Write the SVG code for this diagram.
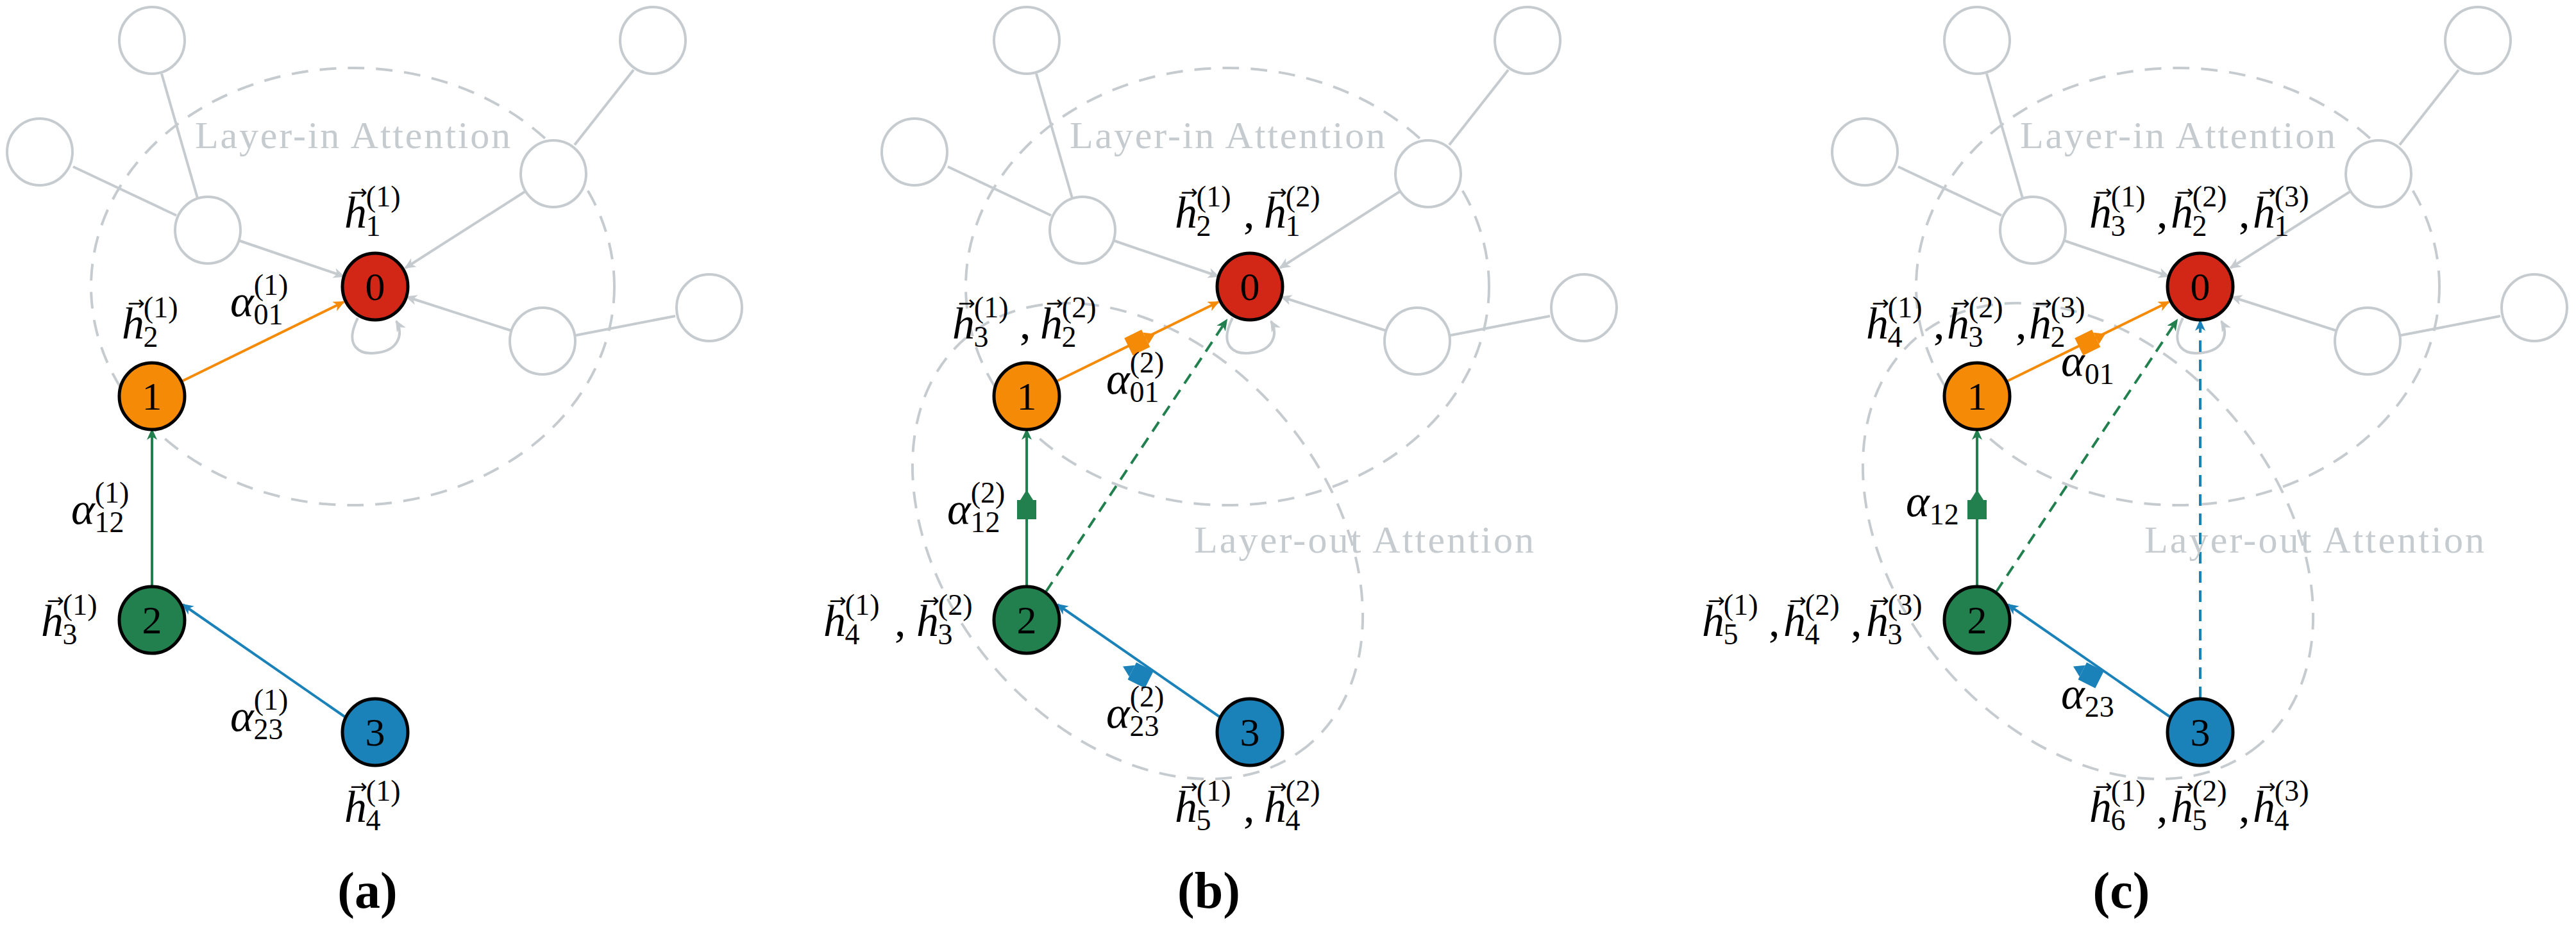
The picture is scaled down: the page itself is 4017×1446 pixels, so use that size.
<svg xmlns="http://www.w3.org/2000/svg" width="4017" height="1446" viewBox="0 0 4017 1446">
<style>
.bg{fill:#fff}
.gn{fill:#fff;stroke:#c5cbcf;stroke-width:4}
.cn{stroke:#000;stroke-width:5}
.gl{stroke:#c5cbcf;stroke-width:4;fill:none}
.dash{fill:none;stroke:#c5cbcf;stroke-width:4;stroke-dasharray:26 18}
.num{font-family:"Liberation Serif",serif;font-size:62px;text-anchor:middle}
.m{font-family:"Liberation Serif",serif;font-size:70px}
.i{font-style:italic}
.s{font-size:46px;font-style:normal}
.ar{font-family:"DejaVu Sans",sans-serif;font-size:32px}
.att{font-family:"Liberation Serif",serif;font-size:60px;fill:#c5cbcf;text-anchor:middle}
.cap{font-family:"Liberation Serif",serif;font-size:80px;font-weight:bold;text-anchor:middle}
.o{stroke:#f58a07;stroke-width:4;fill:none}
.g{stroke:#22804f;stroke-width:4;fill:none}
.b{stroke:#1a82b8;stroke-width:4;fill:none}
.gd{stroke:#22804f;stroke-width:4;fill:none;stroke-dasharray:18 12}
.bd{stroke:#1a82b8;stroke-width:4;fill:none;stroke-dasharray:18 12}
</style>
<defs>
<marker id="aG" markerUnits="userSpaceOnUse" markerWidth="24" markerHeight="20" refX="16" refY="8" orient="auto"><path d="M0,0 L18,8 L0,16 L5,8 z" fill="#c5cbcf"/></marker>
<marker id="aO" markerUnits="userSpaceOnUse" markerWidth="24" markerHeight="20" refX="16" refY="8" orient="auto"><path d="M0,0 L18,8 L0,16 L5,8 z" fill="#f58a07"/></marker>
<marker id="aGr" markerUnits="userSpaceOnUse" markerWidth="24" markerHeight="20" refX="16" refY="8" orient="auto"><path d="M0,0 L18,8 L0,16 L5,8 z" fill="#22804f"/></marker>
<marker id="aB" markerUnits="userSpaceOnUse" markerWidth="24" markerHeight="20" refX="16" refY="8" orient="auto"><path d="M0,0 L18,8 L0,16 L5,8 z" fill="#1a82b8"/></marker>
</defs>
<rect class="bg" width="4017" height="1446"/>

<!-- ================= Panel A ================= -->
<g id="panel-a">
<g id="connectors-a">
<ellipse class="dash" cx="550" cy="447" rx="408" ry="341"/>
<line class="gl" x1="252" y1="115" x2="308" y2="309"/>
<line class="gl" x1="114" y1="260" x2="275" y2="336"/>
<line class="gl" x1="988" y1="109" x2="896" y2="226"/>
<line class="gl" x1="1053" y1="493" x2="898" y2="523"/>
<line class="gl" x1="372" y1="375" x2="536" y2="431" marker-end="url(#aG)"/>
<line class="gl" x1="820" y1="298" x2="632" y2="418" marker-end="url(#aG)"/>
<line class="gl" x1="798" y1="516" x2="634" y2="463" marker-end="url(#aG)"/>
<path class="gl" d="M558,496 C536,540 560,555 590,550 C620,546 630,522 618,501" marker-end="url(#aG)"/>
<line class="o" x1="283" y1="595" x2="536" y2="471" marker-end="url(#aO)"/>
<line class="g" x1="237" y1="915" x2="237" y2="670" marker-end="url(#aGr)"/>
<line class="b" x1="539" y1="1119" x2="285" y2="943" marker-end="url(#aB)"/>
</g>
<text class="att" x="550" y="231" textLength="492">Layer-in Attention</text>
<g id="a-g1"><ellipse class="gn" cx="237" cy="63" rx="51" ry="52"/></g>
<g id="a-g2"><ellipse class="gn" cx="62" cy="237" rx="51" ry="52"/></g>
<g id="a-g3"><ellipse class="gn" cx="324" cy="359" rx="51" ry="52"/></g>
<g id="a-g4"><ellipse class="gn" cx="863" cy="271" rx="51" ry="52"/></g>
<g id="a-g5"><ellipse class="gn" cx="1018" cy="63" rx="51" ry="52"/></g>
<g id="a-g6"><ellipse class="gn" cx="846" cy="532" rx="51" ry="52"/></g>
<g id="a-g7"><ellipse class="gn" cx="1106" cy="480" rx="51" ry="52"/></g>
<g id="a-n0"><ellipse class="cn" fill="#d22717" cx="585" cy="447" rx="51" ry="52"/><text class="num" x="585" y="468">0</text></g>
<g id="a-n1"><ellipse class="cn" fill="#f58a07" cx="237" cy="618" rx="51" ry="52"/><text class="num" x="237" y="639">1</text></g>
<g id="a-n2"><ellipse class="cn" fill="#22804f" cx="237" cy="967" rx="51" ry="52"/><text class="num" x="237" y="988">2</text></g>
<g id="a-n3"><ellipse class="cn" fill="#1a82b8" cx="585" cy="1142" rx="51" ry="52"/><text class="num" x="585" y="1163">3</text></g>
<text class="m" x="537" y="355"><tspan class="i">h</tspan><tspan class="ar" dx="-26" dy="-44">→</tspan><tspan class="s" dx="-2" dy="11">(1)</tspan><tspan class="s" dx="-54" dy="46">1</tspan></text>
<text class="m" x="190" y="528"><tspan class="i">h</tspan><tspan class="ar" dx="-26" dy="-44">→</tspan><tspan class="s" dx="-2" dy="11">(1)</tspan><tspan class="s" dx="-54" dy="46">2</tspan></text>
<text class="m" x="64" y="992"><tspan class="i">h</tspan><tspan class="ar" dx="-26" dy="-44">→</tspan><tspan class="s" dx="-2" dy="11">(1)</tspan><tspan class="s" dx="-54" dy="46">3</tspan></text>
<text class="m" x="537" y="1282"><tspan class="i">h</tspan><tspan class="ar" dx="-26" dy="-44">→</tspan><tspan class="s" dx="-2" dy="11">(1)</tspan><tspan class="s" dx="-54" dy="46">4</tspan></text>
<text class="m" x="359" y="493"><tspan class="i">α</tspan><tspan class="s" dy="-33">(1)</tspan><tspan class="s" dx="-54" dy="46">01</tspan></text>
<text class="m" x="111" y="817"><tspan class="i">α</tspan><tspan class="s" dy="-33">(1)</tspan><tspan class="s" dx="-54" dy="46">12</tspan></text>
<text class="m" x="359" y="1140"><tspan class="i">α</tspan><tspan class="s" dy="-33">(1)</tspan><tspan class="s" dx="-54" dy="46">23</tspan></text>
<text class="cap" x="573" y="1416">(a)</text>
</g>

<!-- ================= Panel B ================= -->
<g id="panel-b" transform="translate(1364,0)">
<g id="connectors-b">
<ellipse class="dash" cx="550" cy="447" rx="408" ry="341"/>
<ellipse class="dash" cx="410" cy="844" rx="415" ry="298" transform="rotate(50 410 844)"/>
<line class="gl" x1="252" y1="115" x2="308" y2="309"/>
<line class="gl" x1="114" y1="260" x2="275" y2="336"/>
<line class="gl" x1="988" y1="109" x2="896" y2="226"/>
<line class="gl" x1="1053" y1="493" x2="898" y2="523"/>
<line class="gl" x1="372" y1="375" x2="536" y2="431" marker-end="url(#aG)"/>
<line class="gl" x1="820" y1="298" x2="632" y2="418" marker-end="url(#aG)"/>
<line class="gl" x1="798" y1="516" x2="634" y2="463" marker-end="url(#aG)"/>
<path class="gl" d="M558,496 C536,540 560,555 590,550 C620,546 630,522 618,501" marker-end="url(#aG)"/>
<line class="o" x1="283" y1="595" x2="536" y2="471" marker-end="url(#aO)"/>
<line class="g" x1="237" y1="915" x2="237" y2="670" marker-end="url(#aGr)"/>
<line class="b" x1="539" y1="1119" x2="285" y2="943" marker-end="url(#aB)"/>
<line class="gd" x1="267" y1="923" x2="549" y2="499" marker-end="url(#aGr)"/>
<g transform="translate(412,533) rotate(-26.2)" fill="#f58a07"><rect x="-18" y="-15" width="30" height="30"/><path d="M12,-10 L28,0 L12,10 z"/></g>
<g transform="translate(237,792) rotate(-90)" fill="#22804f"><rect x="-18" y="-15" width="30" height="30"/><path d="M12,-10 L28,0 L12,10 z"/></g>
<g transform="translate(412,1052) rotate(206.7)" fill="#1a82b8"><rect x="-18" y="-15" width="30" height="30"/><path d="M12,-10 L28,0 L12,10 z"/></g>
</g>
<text class="att" x="550" y="231" textLength="492">Layer-in Attention</text>
<text class="att" x="763" y="862" textLength="530">Layer-out Attention</text>
<g id="b-g1"><ellipse class="gn" cx="237" cy="63" rx="51" ry="52"/></g>
<g id="b-g2"><ellipse class="gn" cx="62" cy="237" rx="51" ry="52"/></g>
<g id="b-g3"><ellipse class="gn" cx="324" cy="359" rx="51" ry="52"/></g>
<g id="b-g4"><ellipse class="gn" cx="863" cy="271" rx="51" ry="52"/></g>
<g id="b-g5"><ellipse class="gn" cx="1018" cy="63" rx="51" ry="52"/></g>
<g id="b-g6"><ellipse class="gn" cx="846" cy="532" rx="51" ry="52"/></g>
<g id="b-g7"><ellipse class="gn" cx="1106" cy="480" rx="51" ry="52"/></g>
<g id="b-n0"><ellipse class="cn" fill="#d22717" cx="585" cy="447" rx="51" ry="52"/><text class="num" x="585" y="468">0</text></g>
<g id="b-n1"><ellipse class="cn" fill="#f58a07" cx="237" cy="618" rx="51" ry="52"/><text class="num" x="237" y="639">1</text></g>
<g id="b-n2"><ellipse class="cn" fill="#22804f" cx="237" cy="967" rx="51" ry="52"/><text class="num" x="237" y="988">2</text></g>
<g id="b-n3"><ellipse class="cn" fill="#1a82b8" cx="585" cy="1142" rx="51" ry="52"/><text class="num" x="585" y="1163">3</text></g>
<text class="m" x="468" y="355"><tspan class="i">h</tspan><tspan class="ar" dx="-26" dy="-44">→</tspan><tspan class="s" dx="-2" dy="11">(1)</tspan><tspan class="s" dx="-54" dy="46">2</tspan></text>
<text class="m" x="575" y="355">,</text>
<text class="m" x="607" y="355"><tspan class="i">h</tspan><tspan class="ar" dx="-26" dy="-44">→</tspan><tspan class="s" dx="-2" dy="11">(2)</tspan><tspan class="s" dx="-54" dy="46">1</tspan></text>
<text class="m" x="121" y="528"><tspan class="i">h</tspan><tspan class="ar" dx="-26" dy="-44">→</tspan><tspan class="s" dx="-2" dy="11">(1)</tspan><tspan class="s" dx="-54" dy="46">3</tspan></text>
<text class="m" x="226" y="528">,</text>
<text class="m" x="258" y="528"><tspan class="i">h</tspan><tspan class="ar" dx="-26" dy="-44">→</tspan><tspan class="s" dx="-2" dy="11">(2)</tspan><tspan class="s" dx="-54" dy="46">2</tspan></text>
<text class="m" x="-80" y="992"><tspan class="i">h</tspan><tspan class="ar" dx="-26" dy="-44">→</tspan><tspan class="s" dx="-2" dy="11">(1)</tspan><tspan class="s" dx="-54" dy="46">4</tspan></text>
<text class="m" x="31" y="992">,</text>
<text class="m" x="65" y="992"><tspan class="i">h</tspan><tspan class="ar" dx="-26" dy="-44">→</tspan><tspan class="s" dx="-2" dy="11">(2)</tspan><tspan class="s" dx="-54" dy="46">3</tspan></text>
<text class="m" x="468" y="1282"><tspan class="i">h</tspan><tspan class="ar" dx="-26" dy="-44">→</tspan><tspan class="s" dx="-2" dy="11">(1)</tspan><tspan class="s" dx="-54" dy="46">5</tspan></text>
<text class="m" x="575" y="1282">,</text>
<text class="m" x="607" y="1282"><tspan class="i">h</tspan><tspan class="ar" dx="-26" dy="-44">→</tspan><tspan class="s" dx="-2" dy="11">(2)</tspan><tspan class="s" dx="-54" dy="46">4</tspan></text>
<text class="m" x="361" y="614"><tspan class="i">α</tspan><tspan class="s" dy="-33">(2)</tspan><tspan class="s" dx="-54" dy="46">01</tspan></text>
<text class="m" x="113" y="817"><tspan class="i">α</tspan><tspan class="s" dy="-33">(2)</tspan><tspan class="s" dx="-54" dy="46">12</tspan></text>
<text class="m" x="361" y="1135"><tspan class="i">α</tspan><tspan class="s" dy="-33">(2)</tspan><tspan class="s" dx="-54" dy="46">23</tspan></text>
<text class="cap" x="521" y="1416">(b)</text>
</g>

<!-- ================= Panel C ================= -->
<g id="panel-c" transform="translate(2846,0)">
<g id="connectors-c">
<ellipse class="dash" cx="550" cy="447" rx="408" ry="341"/>
<ellipse class="dash" cx="410" cy="844" rx="415" ry="298" transform="rotate(50 410 844)"/>
<line class="gl" x1="252" y1="115" x2="308" y2="309"/>
<line class="gl" x1="114" y1="260" x2="275" y2="336"/>
<line class="gl" x1="988" y1="109" x2="896" y2="226"/>
<line class="gl" x1="1053" y1="493" x2="898" y2="523"/>
<line class="gl" x1="372" y1="375" x2="536" y2="431" marker-end="url(#aG)"/>
<line class="gl" x1="820" y1="298" x2="632" y2="418" marker-end="url(#aG)"/>
<line class="gl" x1="798" y1="516" x2="634" y2="463" marker-end="url(#aG)"/>
<path class="gl" d="M558,496 C536,540 560,555 590,550 C620,546 630,522 618,501" marker-end="url(#aG)"/>
<line class="o" x1="283" y1="595" x2="536" y2="471" marker-end="url(#aO)"/>
<line class="g" x1="237" y1="915" x2="237" y2="670" marker-end="url(#aGr)"/>
<line class="b" x1="539" y1="1119" x2="285" y2="943" marker-end="url(#aB)"/>
<line class="gd" x1="267" y1="923" x2="549" y2="499" marker-end="url(#aGr)"/>
<line class="bd" x1="585" y1="1089" x2="585" y2="500" marker-end="url(#aB)"/>
<g transform="translate(412,533) rotate(-26.2)" fill="#f58a07"><rect x="-18" y="-15" width="30" height="30"/><path d="M12,-10 L28,0 L12,10 z"/></g>
<g transform="translate(237,792) rotate(-90)" fill="#22804f"><rect x="-18" y="-15" width="30" height="30"/><path d="M12,-10 L28,0 L12,10 z"/></g>
<g transform="translate(412,1052) rotate(206.7)" fill="#1a82b8"><rect x="-18" y="-15" width="30" height="30"/><path d="M12,-10 L28,0 L12,10 z"/></g>
</g>
<text class="att" x="550" y="231" textLength="492">Layer-in Attention</text>
<text class="att" x="763" y="862" textLength="530">Layer-out Attention</text>
<g id="c-g1"><ellipse class="gn" cx="237" cy="63" rx="51" ry="52"/></g>
<g id="c-g2"><ellipse class="gn" cx="62" cy="237" rx="51" ry="52"/></g>
<g id="c-g3"><ellipse class="gn" cx="324" cy="359" rx="51" ry="52"/></g>
<g id="c-g4"><ellipse class="gn" cx="863" cy="271" rx="51" ry="52"/></g>
<g id="c-g5"><ellipse class="gn" cx="1018" cy="63" rx="51" ry="52"/></g>
<g id="c-g6"><ellipse class="gn" cx="846" cy="532" rx="51" ry="52"/></g>
<g id="c-g7"><ellipse class="gn" cx="1106" cy="480" rx="51" ry="52"/></g>
<g id="c-n0"><ellipse class="cn" fill="#d22717" cx="585" cy="447" rx="51" ry="52"/><text class="num" x="585" y="468">0</text></g>
<g id="c-n1"><ellipse class="cn" fill="#f58a07" cx="237" cy="618" rx="51" ry="52"/><text class="num" x="237" y="639">1</text></g>
<g id="c-n2"><ellipse class="cn" fill="#22804f" cx="237" cy="967" rx="51" ry="52"/><text class="num" x="237" y="988">2</text></g>
<g id="c-n3"><ellipse class="cn" fill="#1a82b8" cx="585" cy="1142" rx="51" ry="52"/><text class="num" x="585" y="1163">3</text></g>
<text class="m" x="412" y="355"><tspan class="i">h</tspan><tspan class="ar" dx="-26" dy="-44">→</tspan><tspan class="s" dx="-2" dy="11">(1)</tspan><tspan class="s" dx="-54" dy="46">3</tspan></text>
<text class="m" x="517" y="355">,</text>
<text class="m" x="539" y="355"><tspan class="i">h</tspan><tspan class="ar" dx="-26" dy="-44">→</tspan><tspan class="s" dx="-2" dy="11">(2)</tspan><tspan class="s" dx="-54" dy="46">2</tspan></text>
<text class="m" x="645" y="355">,</text>
<text class="m" x="667" y="355"><tspan class="i">h</tspan><tspan class="ar" dx="-26" dy="-44">→</tspan><tspan class="s" dx="-2" dy="11">(3)</tspan><tspan class="s" dx="-54" dy="46">1</tspan></text>
<text class="m" x="64" y="528"><tspan class="i">h</tspan><tspan class="ar" dx="-26" dy="-44">→</tspan><tspan class="s" dx="-2" dy="11">(1)</tspan><tspan class="s" dx="-54" dy="46">4</tspan></text>
<text class="m" x="169" y="528">,</text>
<text class="m" x="190" y="528"><tspan class="i">h</tspan><tspan class="ar" dx="-26" dy="-44">→</tspan><tspan class="s" dx="-2" dy="11">(2)</tspan><tspan class="s" dx="-54" dy="46">3</tspan></text>
<text class="m" x="297" y="528">,</text>
<text class="m" x="318" y="528"><tspan class="i">h</tspan><tspan class="ar" dx="-26" dy="-44">→</tspan><tspan class="s" dx="-2" dy="11">(3)</tspan><tspan class="s" dx="-54" dy="46">2</tspan></text>
<text class="m" x="-192" y="992"><tspan class="i">h</tspan><tspan class="ar" dx="-26" dy="-44">→</tspan><tspan class="s" dx="-2" dy="11">(1)</tspan><tspan class="s" dx="-54" dy="46">5</tspan></text>
<text class="m" x="-88" y="992">,</text>
<text class="m" x="-65" y="992"><tspan class="i">h</tspan><tspan class="ar" dx="-26" dy="-44">→</tspan><tspan class="s" dx="-2" dy="11">(2)</tspan><tspan class="s" dx="-54" dy="46">4</tspan></text>
<text class="m" x="40" y="992">,</text>
<text class="m" x="64" y="992"><tspan class="i">h</tspan><tspan class="ar" dx="-26" dy="-44">→</tspan><tspan class="s" dx="-2" dy="11">(3)</tspan><tspan class="s" dx="-54" dy="46">3</tspan></text>
<text class="m" x="412" y="1282"><tspan class="i">h</tspan><tspan class="ar" dx="-26" dy="-44">→</tspan><tspan class="s" dx="-2" dy="11">(1)</tspan><tspan class="s" dx="-54" dy="46">6</tspan></text>
<text class="m" x="517" y="1282">,</text>
<text class="m" x="539" y="1282"><tspan class="i">h</tspan><tspan class="ar" dx="-26" dy="-44">→</tspan><tspan class="s" dx="-2" dy="11">(2)</tspan><tspan class="s" dx="-54" dy="46">5</tspan></text>
<text class="m" x="645" y="1282">,</text>
<text class="m" x="667" y="1282"><tspan class="i">h</tspan><tspan class="ar" dx="-26" dy="-44">→</tspan><tspan class="s" dx="-2" dy="11">(3)</tspan><tspan class="s" dx="-54" dy="46">4</tspan></text>
<text class="m" x="368" y="586"><tspan class="i">α</tspan><tspan class="s" dy="13">01</tspan></text>
<text class="m" x="126" y="805"><tspan class="i">α</tspan><tspan class="s" dy="13">12</tspan></text>
<text class="m" x="368" y="1105"><tspan class="i">α</tspan><tspan class="s" dy="13">23</tspan></text>
<text class="cap" x="462" y="1416">(c)</text>
</g>
</svg>
